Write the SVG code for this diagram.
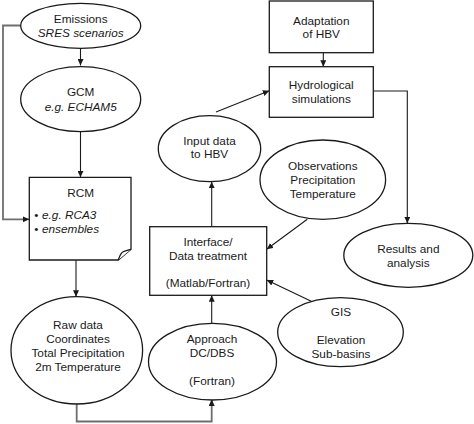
<svg xmlns="http://www.w3.org/2000/svg" width="474" height="424" viewBox="0 0 474 424">
<defs>
<marker id="ah" markerUnits="userSpaceOnUse" markerWidth="7" markerHeight="6" refX="6.5" refY="3" orient="auto">
<path d="M0,0 L6.5,3 L0,6 Z" fill="#1a1a1a"/>
</marker>
</defs>
<style>
.n{fill:#fff;stroke:#1a1a1a;stroke-width:1.3}
.t{font-family:"Liberation Sans",Arial,sans-serif;font-size:11.8px;fill:#1a1a1a;text-anchor:middle}
.i{font-style:italic}
.c{fill:none;stroke:#1a1a1a;stroke-width:1.1}
.g{fill:none;stroke:#6e6e6e;stroke-width:1.8}
</style>
<rect width="474" height="424" fill="#fff"/>
<g id="connectors">
<path class="g" d="M20.7,25.5 H3 V219.3 H27" />
<path class="c" d="M27,219.3 H29.3" marker-end="url(#ah)"/>
<path class="c" d="M80.5,48.3 V65.5" marker-end="url(#ah)"/>
<path class="c" d="M80.5,131.7 V177.3" marker-end="url(#ah)"/>
<path class="c" d="M76,260 V296.7" marker-end="url(#ah)"/>
<path class="g" d="M76.7,404 V421.5 H211.7 V400" />
<path class="c" d="M211.7,402 V399.5" marker-end="url(#ah)"/>
<path class="c" d="M211.7,323.3 V295.3" marker-end="url(#ah)"/>
<path class="c" d="M211.7,226.7 V181.7" marker-end="url(#ah)"/>
<path class="c" d="M216,112 L269.3,90.7" marker-end="url(#ah)"/>
<path class="c" d="M323.3,52.7 V66.7" marker-end="url(#ah)"/>
<path class="c" d="M373.3,91 H407.3 V223.3" marker-end="url(#ah)"/>
<path class="c" d="M307.3,219.3 L266.7,249.3" marker-end="url(#ah)"/>
<path class="c" d="M312.3,301.7 L266.7,280" marker-end="url(#ah)"/>
</g>
<g id="emissions">
<ellipse class="n" cx="80.7" cy="25.8" rx="60" ry="22.5"/>
<text class="t" x="80.7" y="23">Emissions</text>
<text class="t i" x="80.7" y="36.7">SRES scenarios</text>
</g>
<g id="gcm">
<ellipse class="n" cx="80.7" cy="99.2" rx="60" ry="32.5"/>
<text class="t" x="80.7" y="96">GCM</text>
<text class="t i" x="80.7" y="110.7">e.g. ECHAM5</text>
</g>
<g id="rcm">
<path class="n" d="M29.3,177.3 H131 V249.3 L118.3,260 H29.3 Z"/>
<path class="n" d="M118.3,260 C119.5,256 121,252 124,251.3 C126,250.8 128.5,250 131,249.3"/>
<text class="t" x="80.7" y="196.7">RCM</text>
<text class="t" x="34.3" y="219" style="text-anchor:start">•</text>
<text class="t i" x="42" y="219" style="text-anchor:start">e.g. RCA3</text>
<text class="t" x="34.3" y="233" style="text-anchor:start">•</text>
<text class="t i" x="42" y="233" style="text-anchor:start">ensembles</text>
</g>
<g id="rawdata">
<ellipse class="n" cx="76.8" cy="350.3" rx="65.8" ry="53.7"/>
<text class="t" x="78" y="329.3">Raw data</text>
<text class="t" x="78" y="343.3">Coordinates</text>
<text class="t" x="78" y="357.3">Total Precipitation</text>
<text class="t" x="78" y="371.3">2m Temperature</text>
</g>
<g id="approach">
<ellipse class="n" cx="212.5" cy="361.7" rx="64" ry="38.3"/>
<text class="t" x="212" y="343.3">Approach</text>
<text class="t" x="212" y="357.3">DC/DBS</text>
<text class="t" x="212" y="384.7">(Fortran)</text>
</g>
<g id="interface">
<rect class="n" x="149.7" y="226.7" width="117" height="68.6"/>
<text class="t" x="208" y="245.7">Interface/</text>
<text class="t" x="208" y="259.7">Data treatment</text>
<text class="t" x="208" y="287.3">(Matlab/Fortran)</text>
</g>
<g id="inputdata">
<ellipse class="n" cx="209.5" cy="148.7" rx="51.2" ry="33"/>
<text class="t" x="209.5" y="144.7">Input data</text>
<text class="t" x="209.5" y="158.3">to HBV</text>
</g>
<g id="adaptation">
<rect class="n" x="269.3" y="1" width="104" height="51.7"/>
<text class="t" x="321.3" y="25">Adaptation</text>
<text class="t" x="321.3" y="38.3">of HBV</text>
</g>
<g id="hydrological">
<rect class="n" x="269.3" y="66.7" width="104" height="50.6"/>
<text class="t" x="321.3" y="89">Hydrological</text>
<text class="t" x="321.3" y="103">simulations</text>
</g>
<g id="results">
<ellipse class="n" cx="408.3" cy="255.3" rx="64.5" ry="32"/>
<text class="t" x="408.3" y="252.7">Results and</text>
<text class="t" x="408.3" y="266.7">analysis</text>
</g>
<g id="observations">
<ellipse class="n" cx="322.8" cy="179.7" rx="62.8" ry="39.7"/>
<text class="t" x="322.8" y="170">Observations</text>
<text class="t" x="322.8" y="184">Precipitation</text>
<text class="t" x="322.8" y="198">Temperature</text>
</g>
<g id="gis">
<ellipse class="n" cx="340.5" cy="332.2" rx="62.8" ry="34.5"/>
<text class="t" x="341" y="316.3">GIS</text>
<text class="t" x="341" y="344">Elevation</text>
<text class="t" x="341" y="358">Sub-basins</text>
</g>
</svg>
